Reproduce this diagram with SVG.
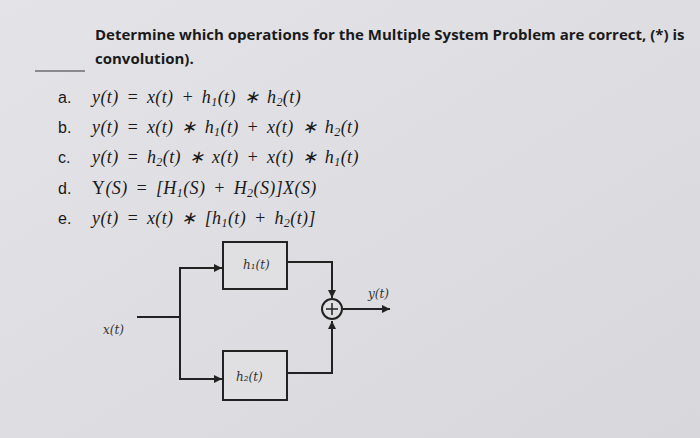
<svg xmlns="http://www.w3.org/2000/svg" width="700" height="438" viewBox="0 0 700 438">
<defs>
<linearGradient id="bg" x1="0" y1="0" x2="1" y2="1"><stop offset="0" stop-color="#e4e4e8"/><stop offset="1" stop-color="#d8d8dc"/></linearGradient>
<marker id="ar" viewBox="0 0 10 10" refX="10" refY="5" markerWidth="10" markerHeight="8" orient="auto" markerUnits="userSpaceOnUse"><path d="M0,0L10,5L0,10z" fill="#222"/></marker>
<style>
.t{font-family:"Open Sans","Liberation Sans",sans-serif;font-weight:bold;font-size:15px;fill:#1a1a1a}
.l{font-family:"Liberation Sans",sans-serif;font-size:16px;fill:#1a1a1a}
.m{font-family:"Liberation Serif",serif;font-style:italic;font-size:18px;word-spacing:3px;letter-spacing:0.4px;fill:#1a1a1a}
.s{font-family:"DejaVu Serif",serif;font-style:italic;font-size:12px;fill:#333}
.w{stroke:#222;stroke-width:2;fill:none}
.b{stroke:#222;stroke-width:2;fill:#e0e0e3}
</style>
</defs>
<rect width="700" height="438" fill="url(#bg)"/>
<text class="t" x="95" y="40">Determine which operations for the Multiple System Problem are correct, (*) is</text>
<text class="t" x="95" y="64">convolution).</text>
<line x1="35" y1="71" x2="85" y2="71" stroke="#333" stroke-width="1"/>
<text class="l" x="58" y="103">a.</text><text class="m" x="92" y="103">y(t) = x(t) + h<tspan font-size="12" dy="3">1</tspan><tspan dy="-3">(t) ∗ h</tspan><tspan font-size="12" dy="3">2</tspan><tspan dy="-3">(t)</tspan></text>
<text class="l" x="58" y="133">b.</text><text class="m" x="92" y="133">y(t) = x(t) ∗ h<tspan font-size="12" dy="3">1</tspan><tspan dy="-3">(t) + x(t) ∗ h</tspan><tspan font-size="12" dy="3">2</tspan><tspan dy="-3">(t)</tspan></text>
<text class="l" x="58" y="163">c.</text><text class="m" x="92" y="163">y(t) = h<tspan font-size="12" dy="3">2</tspan><tspan dy="-3">(t) ∗ x(t) + x(t) ∗ h</tspan><tspan font-size="12" dy="3">1</tspan><tspan dy="-3">(t)</tspan></text>
<text class="l" x="58" y="194">d.</text><text class="m" x="92" y="194"><tspan font-style="normal">Y</tspan>(S) = [H<tspan font-size="12" dy="3">1</tspan><tspan dy="-3">(S) + H</tspan><tspan font-size="12" dy="3">2</tspan><tspan dy="-3">(S)]X(S)</tspan></text>
<text class="l" x="58" y="224">e.</text><text class="m" x="92" y="224">y(t) = x(t) ∗ [h<tspan font-size="12" dy="3">1</tspan><tspan dy="-3">(t) + h</tspan><tspan font-size="12" dy="3">2</tspan><tspan dy="-3">(t)]</tspan></text>
<g id="connectors">
<path class="w" d="M137,317H180"/>
<path class="w" d="M180,379V268H222" marker-end="url(#ar)"/>
<path class="w" d="M180,317V379H222" marker-end="url(#ar)"/>
<path class="w" d="M287,262H332V298" marker-end="url(#ar)"/>
<path class="w" d="M287,373H332V321" marker-end="url(#ar)"/>
<path class="w" d="M343,309H390" marker-end="url(#ar)"/>
</g>
<g id="h1"><rect class="b" x="223" y="242" width="64" height="47"/><text class="s" x="243" y="269">h₁(t)</text></g>
<g id="h2"><rect class="b" x="223" y="351" width="64" height="49"/><text class="s" x="236" y="381">h₂(t)</text></g>
<g id="sum"><circle class="b" cx="332" cy="309" r="10"/><path d="M326,309h12M332,303v12" stroke="#222" stroke-width="1.5"/></g>
<text class="s" x="368" y="298">y(t)</text>
<text class="s" x="103" y="334">x(t)</text>
</svg>
